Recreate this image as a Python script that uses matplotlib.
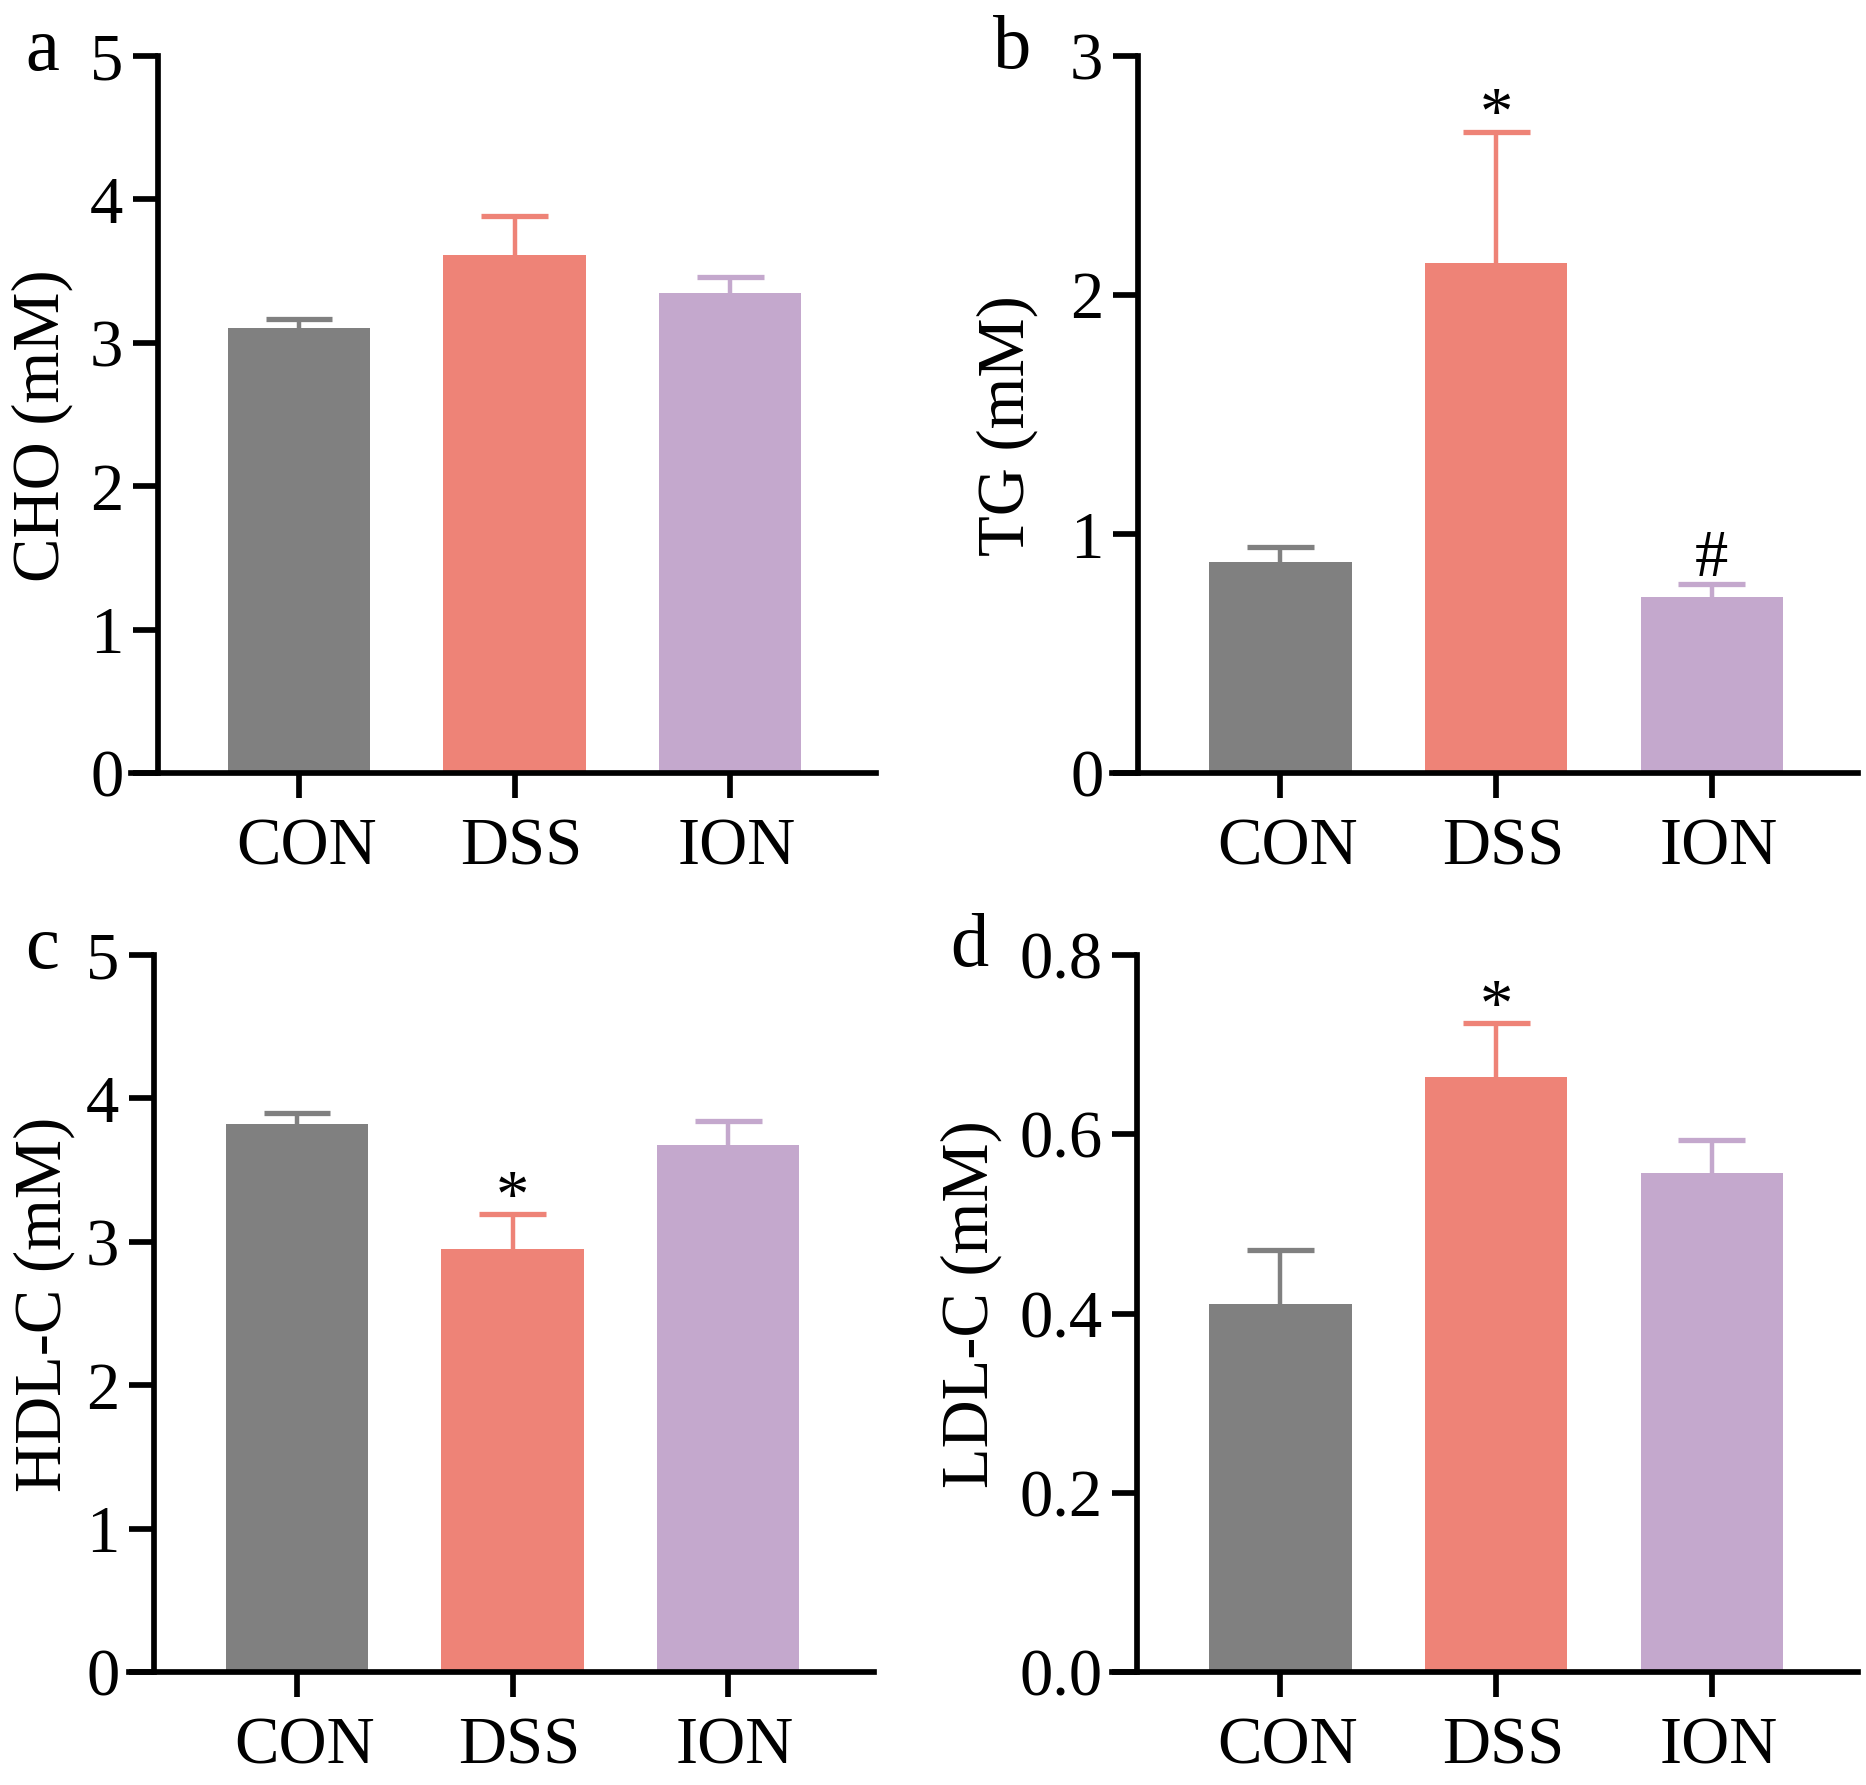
import numpy as np
import matplotlib
matplotlib.use("Agg")
import matplotlib.pyplot as plt
import matplotlib.transforms as mtransforms

plt.rcParams['font.family'] = ['Liberation Serif', 'DejaVu Serif']

groups = ["CON", "DSS", "ION"]
colors = ["#808080", "#EE8377", "#C4A8CD"]

cho_mean = [3.10, 3.61, 3.35]
cho_err = [0.064, 0.275, 0.11]
tg_mean = [0.882, 2.132, 0.737]
tg_err = [0.062, 0.551, 0.052]
hdl_mean = [3.82, 2.95, 3.676]
hdl_err = [0.075, 0.243, 0.163]
ldl_mean = [0.411, 0.664, 0.557]
ldl_err = [0.06, 0.06, 0.037]

tg_marks = ["", "*", "#"]
hdl_marks = ["", "*", ""]
ldl_marks = ["", "*", ""]
no_marks = ["", "", ""]

cho_ticks = [0, 1, 2, 3, 4, 5]
tg_ticks = [0, 1, 2, 3]
hdl_ticks = [0, 1, 2, 3, 4, 5]
ldl_ticks = [0.0, 0.2, 0.4, 0.6, 0.8]
ldl_ticklabels = ["0.0", "0.2", "0.4", "0.6", "0.8"]

W, H = 1866, 1785
fig = plt.figure(figsize=(W / 100, H / 100), dpi=100)

# panel pixel boxes: left, right, top, bottom, y-axis x, ylabel center x, letter x, letter baseline
panels = [
    ("a", "CHO (mM)", cho_mean, cho_err, no_marks, cho_ticks, None, (131, 876, 56, 773, 158, 42, 25, 70)),
    ("b", "TG (mM)", tg_mean, tg_err, tg_marks, tg_ticks, None, (1112, 1858, 56, 773, 1138, 1007, 993, 68)),
    ("c", "HDL-C (mM)", hdl_mean, hdl_err, hdl_marks, hdl_ticks, None, (129, 874, 955, 1672, 154, 44, 25, 968)),
    ("d", "LDL-C (mM)", ldl_mean, ldl_err, ldl_marks, ldl_ticks, ldl_ticklabels, (1112, 1858, 955, 1672, 1137, 971, 950, 966)),
]

fs = 48
lw = 4.1
x = np.arange(len(groups))
cap = 0.31

for letter, ylab, mean, err, marks, ticks, ticklabels, box in panels:
    l, r, t, b, yax, labx, letx, lety = box
    ax = fig.add_axes([l / W, 1 - b / H, (r - l) / W, (b - t) / H])
    top = np.array(mean) + np.array(err)
    # upper error bars only: stem + cap
    ax.vlines(x, mean, top, colors=colors, linewidth=3.2, zorder=1)
    ax.hlines(top, x - cap / 2, x + cap / 2, colors=colors, linewidth=3.8, zorder=1)
    ax.bar(x, mean, width=0.66, color=colors, edgecolor="none", zorder=2)
    for i in range(len(groups)):
        if marks[i]:
            off = 6 if marks[i] == "#" else -1
            ax.annotate(marks[i], xy=(x[i], top[i]), xytext=(0, off),
                        textcoords="offset points", ha="center", va="baseline",
                        fontsize=fs)
    ax.set_xlim(-0.78, 2.677)
    ax.set_ylim(ticks[0], ticks[-1])
    ax.set_yticks(ticks)
    if ticklabels is not None:
        ax.set_yticklabels(ticklabels)
    ax.set_xticks(x)
    ax.set_xticklabels(groups)
    for s in ["top", "right"]:
        ax.spines[s].set_visible(False)
    for s in ["left", "bottom"]:
        ax.spines[s].set_linewidth(lw)
        ax.spines[s].set_capstyle("projecting")
    ax.spines["left"].set_position(("axes", (yax - l) / (r - l)))
    ax.tick_params(axis="both", direction="out", length=18, width=lw,
                   labelsize=fs, pad=7)
    ax.tick_params(axis="x", pad=14)
    shift = mtransforms.ScaledTranslation(7 / 100, 0, fig.dpi_scale_trans)
    for lab in ax.get_xticklabels():
        lab.set_transform(lab.get_transform() + shift)
    ax.set_ylabel(ylab, fontsize=fs, va="center")
    yc = 0.485 if t < 500 else 0.513
    ax.yaxis.set_label_coords((labx - l) / (r - l), yc)
    fig.text(letx / W, 1 - lety / H, letter, fontsize=55, ha="left", va="baseline")

fig.savefig("out.png", dpi=100)
